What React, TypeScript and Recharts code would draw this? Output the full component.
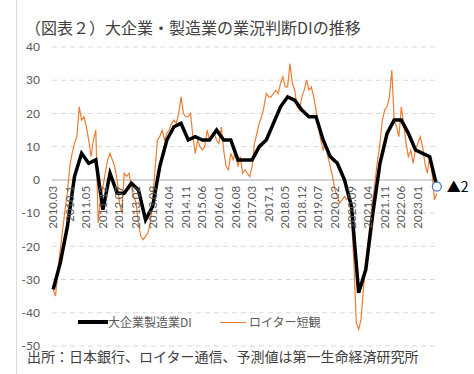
import {
  CartesianGrid,
  Line,
  LineChart,
  ReferenceDot,
  ReferenceLine,
  XAxis,
  YAxis,
} from "recharts";

// Month labels shown on the axis, one every 7 months starting at index 0.
const X_TICK_LABELS = [
  "2010.03", "2010.1", "2011.05", "2011.12", "2012.07", "2013.02", "2013.09",
  "2014.04", "2014.11", "2015.06", "2016.01", "2016.08", "2017.03", "2017.1",
  "2018.05", "2018.12", "2019.07", "2020.02", "2020.09", "2021.04", "2021.11",
  "2022.06", "2023.01",
];
const X_TICK_STEP = 7;

const Y_TICKS = [-50, -40, -30, -20, -10, 0, 10, 20, 30, 40];

// Tankan large manufacturers DI, quarterly (one point every 3 months), last = forecast.
const TANKAN_DI = [
  -33, -25, -14, 1, 8, 5, 6, -9, 2, -4, -4, -1, -3, -12, -8, 4, 12, 16, 17, 12,
  13, 12, 12, 15, 12, 12, 6, 6, 6, 10, 12, 17, 22, 25, 24, 21, 19, 19, 12, 7,
  5, 0, -8, -34, -27, -10, 5, 14, 18, 18, 14, 9, 8, 7, -2,
];

// Reuters Tankan (manufacturers), monthly.
const REUTERS = [
  -33, -35, -27, -21, -15, -9, -4, 4, 8, 11,
  13, 22, 18, 19, 16, 12, 7, 12, 15, -13,
  -6, -2, 2, 6, 8, 6, 4, 0, -7, -10,
  2, 1, 2, -2, -5, -7, -13, -17, -18, -17,
  -16, -13, -6, 3, 12, 13, 15, 12, 14, 15,
  17, 18, 17, 20, 25, 20, 19, 19, 20, 13,
  8, 12, 10, 9, 10, 15, 12, 13, 14, 12,
  11, 16, 9, 4, 3, 8, 6, 9, 4, 7,
  2, 3, 2, 1, 4, 11, 14, 17, 19, 22,
  26, 25, 25, 26, 27, 26, 29, 31, 28, 28,
  35, 29, 27, 22, 21, 25, 27, 30, 27, 28,
  25, 21, 16, 12, 9, 11, 7, 4, 1, -3,
  -5, -7, -6, -5, -6, -5, -12, -25, -43, -45,
  -42, -33, -25, -18, -12, -6, 0, 6, 11, 18,
  21, 22, 25, 33, 18, 16, 13, 22, 17, 11,
  7, 9, 5, 9, 11, 13, 10, 5, 2, 7,
  2, -6, -4,
];

const FORECAST_LABEL = "▲2";

const rows = REUTERS.map((v, i) => ({
  i,
  reuters: v,
  tankan: i % 3 === 0 ? TANKAN_DI[i / 3] : null,
}));
const LAST = rows.length - 1;

const FONT = "'Noto Sans CJK JP', Lato, sans-serif";
const GRAY = "#595959";

export default function App() {
  return (
    <div
      style={{
        position: "fixed",
        left: 0,
        top: 0,
        width: 474,
        height: 374,
        background: "#fff",
        fontFamily: FONT,
        overflow: "hidden",
      }}
    >
      <div style={{ position: "absolute", left: 16, top: 0, width: 1, height: 374, background: "#d9d9d9" }} />
      <div
        style={{
          position: "absolute",
          left: 25,
          top: 17,
          fontSize: 16,
          lineHeight: "20px",
          color: "#404040",
          whiteSpace: "nowrap",
        }}
      >
        （図表２）大企業・製造業の業況判断DIの推移
      </div>

      <LineChart
        width={474}
        height={374}
        data={rows}
        margin={{ top: 47, right: 36, bottom: 28, left: 22 }}
        style={{ position: "absolute", left: 0, top: 0 }}
      >
        <CartesianGrid vertical={false} stroke="#d9d9d9" strokeDasharray="5 4" />
        <XAxis
          type="number"
          dataKey="i"
          domain={[-0.5, LAST + 0.5]}
          tick={false}
          axisLine={false}
          tickLine={false}
          height={0}
        />
        <YAxis
          domain={[-50, 40]}
          ticks={Y_TICKS}
          interval={0}
          width={30}
          axisLine={false}
          tickLine={false}
          tickSize={0}
          tickMargin={12}
          tick={{ fontSize: 12, fill: GRAY, fontFamily: "Lato, sans-serif" }}
        />
        <ReferenceLine y={0} stroke="#c8c8c8" strokeWidth={1.5} />
        {X_TICK_LABELS.map((label, k) => (
          <ReferenceDot
            key={label}
            x={k * X_TICK_STEP}
            y={0}
            r={0}
            ifOverflow="visible"
            shape={(p: any) => (
              <text
                x={p.cx}
                y={p.cy}
                dx={-6}
                dy={4}
                transform={`rotate(-90 ${p.cx} ${p.cy})`}
                textAnchor="end"
                fontSize={11.5}
                fontFamily="Lato, sans-serif"
                fill={GRAY}
              >
                {label}
              </text>
            )}
          />
        ))}
        <Line
          type="linear"
          dataKey="reuters"
          stroke="#ed7d31"
          strokeWidth={1.2}
          dot={false}
          isAnimationActive={false}
        />
        <Line
          type="linear"
          dataKey="tankan"
          stroke="#000"
          strokeWidth={3.5}
          connectNulls
          isAnimationActive={false}
          dot={(p: any) =>
            p.index === LAST ? (
              <g key="end">
                <circle cx={p.cx} cy={p.cy} r={4.5} fill="#fff" stroke="#4472c4" strokeWidth={1.2} />
                <text x={p.cx + 10} y={p.cy + 5} fontSize={14} fill="#000" fontFamily={FONT}>
                  {FORECAST_LABEL}
                </text>
              </g>
            ) : (
              <g key={p.index} />
            )
          }
        />
      </LineChart>

      {/* legend */}
      <div style={{ position: "absolute", left: 78, top: 320, width: 30, height: 4, background: "#000" }} />
      <div style={{ position: "absolute", left: 108, top: 314, fontSize: 12, lineHeight: "16px", color: GRAY }}>
        大企業製造業DI
      </div>
      <div style={{ position: "absolute", left: 220, top: 321.5, width: 26, height: 1.5, background: "#ed7d31" }} />
      <div style={{ position: "absolute", left: 249, top: 314, fontSize: 12, lineHeight: "16px", color: GRAY }}>
        ロイター短観
      </div>

      <div
        style={{
          position: "absolute",
          left: 27,
          top: 347,
          fontSize: 14,
          lineHeight: "18px",
          color: "#404040",
          whiteSpace: "nowrap",
        }}
      >
        出所：日本銀行、ロイター通信、予測値は第一生命経済研究所
      </div>
    </div>
  );
}
